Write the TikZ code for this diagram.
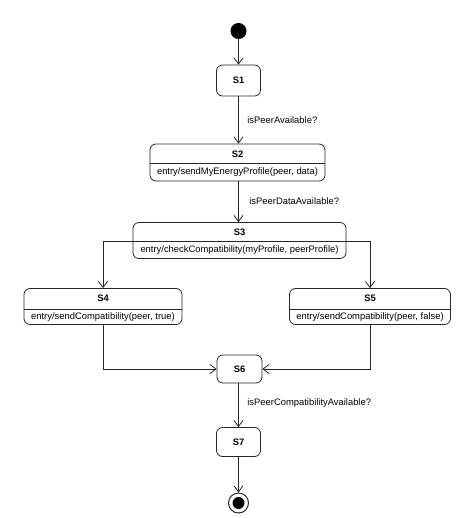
\documentclass[tikz,border=0pt]{standalone}
\usepackage{fontspec}
\setmainfont{Liberation Sans}
\usetikzlibrary{arrows.meta}
\begin{document}
\begin{tikzpicture}[x=1pt,y=-1pt,
  font=\fontsize{9.4}{11}\selectfont,
  line width=0.8pt,
  state/.style={draw=black!85, rounded corners=6pt, inner sep=0pt, fill=white},
  title/.style={font=\fontsize{9.4}{11}\selectfont\bfseries, inner sep=0pt},
  entry/.style={inner sep=0pt},
  guard/.style={anchor=west, inner sep=0pt},
  flow/.style={draw=black!85, -{Straight Barb[length=6pt,width=9pt,line width=0.8pt]}},
  line/.style={draw=black!85}]
\useasboundingbox (0,0) rectangle (474,518);

% initial and final
\node[circle, fill=black, minimum size=16pt, inner sep=0pt] (init) at (238.5,31) {};
\node[circle, draw=black!85, fill=white, minimum size=20pt, inner sep=0pt, line width=1pt] (fin) at (238.5,503) {};
\node[circle, fill=black, minimum size=12pt, inner sep=0pt] (finin) at (fin.center) {};

% S1
\node[state, minimum width=44pt, minimum height=31pt, title] (S1) at (238.5,80.5) {S1};

% S2
\node[state, minimum width=175pt, minimum height=37pt] (S2) at (237.5,162.5) {};
\node[title] (S2t) at (237.5,154) {S2};
\node[entry] (S2e) at (237.5,172.5) {entry/sendMyEnergyProfile(peer, data)};
\draw[line] (S2.west |- 0,163) -- (S2.east |- 0,163);

% S3
\node[state, minimum width=213pt, minimum height=36pt] (S3) at (239.5,240.5) {};
\node[title] (S3t) at (239.5,232) {S3};
\node[entry] (S3e) at (239.5,250.5) {entry/checkCompatibility(myProfile, peerProfile)};
\draw[line] (S3.west |- 0,241.5) -- (S3.east |- 0,241.5);

% S4
\node[state, minimum width=158pt, minimum height=36pt] (S4) at (103,306.5) {};
\node[title] (S4t) at (103,298.5) {S4};
\node[entry] (S4e) at (103,317) {entry/sendCompatibility(peer, true)};
\draw[line] (S4.west |- 0,309.5) -- (S4.east |- 0,309.5);

% S5
\node[state, minimum width=161pt, minimum height=36pt] (S5) at (370,306.5) {};
\node[title] (S5t) at (370,298.5) {S5};
\node[entry] (S5e) at (370,317) {entry/sendCompatibility(peer, false)};
\draw[line] (S5.west |- 0,309.5) -- (S5.east |- 0,309.5);

% S6, S7
\node[state, minimum width=45pt, minimum height=28pt, title] (S6) at (239.5,369) {S6};
\node[state, minimum width=44pt, minimum height=29pt, title] (S7) at (238.5,442) {S7};

% connectors
\draw[flow] (init) -- (S1);
\draw[flow] (S1.south) -- (S1.south |- S2.north);
\draw[flow] (S2.south -| S1.south) -- (S1.south |- S3.north);
\draw[flow] (S3.west |- 0,241.5) -| (S4.north);
\draw[flow] (S3.east |- 0,241.5) -| (S5.north);
\draw[flow] (S4.south) |- (S6.west);
\draw[flow] (S5.south) |- (S6.east);
\draw[flow] (S6.south -| S7.south) -- (S7.north);
\draw[flow] (S7.south) -- (fin.north);

% guards
\node[guard] (g1) at (247,120) {isPeerAvailable?};
\node[guard] (g2) at (249,201.5) {isPeerDataAvailable?};
\node[guard] (g3) at (247,403) {isPeerCompatibilityAvailable?};
\end{tikzpicture}
\end{document}
